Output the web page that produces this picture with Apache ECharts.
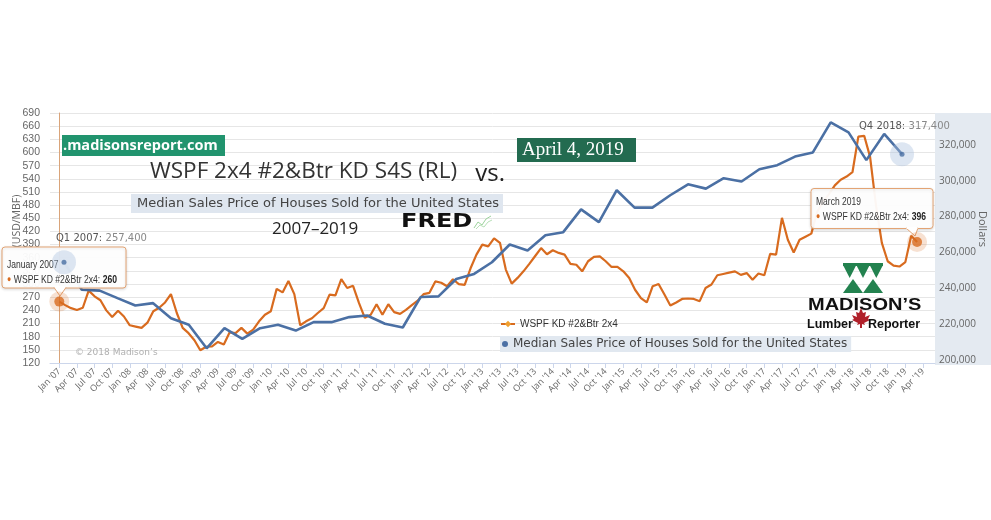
<!DOCTYPE html>
<html>
<head>
<meta charset="utf-8">
<title>WSPF 2x4 vs Median Sales Price</title>
<script src="https://cdn.jsdelivr.net/npm/echarts@6/dist/echarts.min.js"></script>
<style>
  html, body { margin: 0; padding: 0; background: #fff; }
  #chart { width: 991px; height: 520px; }
</style>
</head>
<body>
<div id="chart"></div>
<script>
// WSPF KD #2&Btr 2x4, monthly, Jan 2007 - Mar 2019 (USD/MBF)
const wspf = [
  260, 252, 245, 241, 246, 285, 272, 263, 240, 225, 239, 226, // 2007
  206, 203, 200, 212, 238, 246, 258, 277, 234, 200, 188, 172, // 2008
  149, 157, 158, 168, 162, 190, 188, 200, 187, 196, 215, 230, // 2009
  238, 289, 281, 307, 277, 206, 215, 222, 234, 245, 276, 274, // 2010
  311, 291, 296, 257, 223, 230, 254, 230, 254, 236, 232, 241, // 2011
  252, 262, 277, 280, 306, 303, 295, 311, 300, 298, 336, 367, // 2012
  390, 386, 404, 394, 333, 301, 314, 329, 346, 364, 382, 368, // 2013
  377, 371, 367, 346, 344, 329, 352, 362, 363, 352, 339, 339, // 2014
  329, 314, 287, 268, 258, 295, 300, 276, 251, 258, 266, 267, // 2015
  266, 261, 291, 299, 320, 323, 326, 329, 321, 325, 310, 324, // 2016
  320, 369, 367, 451, 401, 372, 401, 408, 415, 465, 488, 505, // 2017
  525, 538, 545, 555, 636, 638, 590, 480, 394, 352, 342, 340, // 2018
  350, 410, 396                                               // 2019
];

// Median Sales Price of Houses Sold for the United States, quarterly, Q1 2007 - Q4 2018
const mspus = [
  254500, 239200, 238700, 234500,
  230400, 231700, 223300, 219600,
  206500, 217700, 211700, 217700,
  219600, 216400, 221100, 221100,
  223900, 224800, 220200, 218100,
  235100, 235500, 245200, 248000,
  254500, 264400, 261100, 269600,
  271300, 284000, 276900, 294700,
  285000, 285000, 291900, 298000,
  295600, 301400, 299600, 306400,
  308700, 313500, 315800, 332600,
  327000, 311500, 326100, 314800
];

const xTickLabels = [
  "Jan '07", "Apr '07", "Jul '07", "Oct '07",
  "Jan '08", "Apr '08", "Jul '08", "Oct '08",
  "Jan '09", "Apr '09", "Jul '09", "Oct '09",
  "Jan '10", "Apr '10", "Jul '10", "Oct '10",
  "Jan '11", "Apr '11", "Jul '11", "Oct '11",
  "Jan '12", "Apr '12", "Jul '12", "Oct '12",
  "Jan '13", "Apr '13", "Jul '13", "Oct '13",
  "Jan '14", "Apr '14", "Jul '14", "Oct '14",
  "Jan '15", "Apr '15", "Jul '15", "Oct '15",
  "Jan '16", "Apr '16", "Jul '16", "Oct '16",
  "Jan '17", "Apr '17", "Jul '17", "Oct '17",
  "Jan '18", "Apr '18", "Jul '18", "Oct '18",
  "Jan '19", "Apr '19"
];
const xTickMonths = xTickLabels.map((_, i) => i * 3);
const rightTicks = [200000, 220000, 240000, 260000, 280000, 300000, 320000];

const ORANGE = '#d86b1f';
const BLUE = '#4b70a4';
const wspfName = 'WSPF KD #2&Btr 2x4';
const mspusName = 'Median Sales Price of Houses Sold for the United States';

const lastM = wspf.length - 1;
const lastQ = mspus.length - 1;

let chart = echarts.init(document.getElementById('chart'));

// tooltip-like box text, squeezed to look like a narrow font
function tipLines (x, y, title, value) {
    return [
        { type: 'text', z: 9, x: x, y: y, scaleX: 0.85, style: { text: title, fill: '#333', font: '10px "Liberation Sans"', verticalAlign: 'middle' } },
        { type: 'text', z: 9, x: x, y: y + 15, scaleX: 0.78, style: {
            text: '{d|●} {t|' + wspfName + ':} {b|' + value + '}', verticalAlign: 'middle',
            rich: {
                d: { fill: ORANGE, font: '9px "Liberation Sans"' },
                t: { fill: '#333', font: '11px "Liberation Sans"' },
                b: { fill: '#222', font: 'bold 11px "Liberation Sans"' }
            }
        } }
    ];
}

let option = {
    animation: false,
    backgroundColor: '#fff',
    grid: {
        left: 50,
        right: 56,
        top: 113,
        bottom: 157,
        outerBoundsMode: 'none'
    },
    legend: [{
        data: [wspfName],
        left: 500,
        top: 319,
        itemWidth: 14,
        itemHeight: 8,
        itemGap: 4,
        padding: 0,
        textStyle: { fontFamily: 'Liberation Sans', fontSize: 10, color: '#333' }
    }, {
        data: [mspusName],
        left: 500,
        top: 336,
        icon: 'circle',
        itemWidth: 6,
        itemHeight: 6,
        itemGap: 4,
        padding: [2, 4, 2, 2],
        backgroundColor: '#e1e8f0',
        textStyle: { fontFamily: 'DejaVu Sans', fontSize: 12, color: '#444' }
    }],
    xAxis: [{
        type: 'value',
        min: -1.583,
        max: 149.05,
        splitLine: { show: false },
        axisLine: { show: true, lineStyle: { color: '#ccd6eb' } },
        axisTick: { show: true, customValues: xTickMonths, length: 5, lineStyle: { color: '#ccd6eb' } },
        axisLabel: {
            customValues: xTickMonths,
            rotate: 45,
            margin: 7,
            fontFamily: 'Open Sans',
            fontSize: 9,
            color: '#666',
            formatter: (v) => xTickLabels[Math.round(v / 3)]
        }
    }, {
        // own axis of the quarterly house-price overlay
        type: 'value',
        show: false,
        min: -0.785,
        max: 48.85
    }],
    yAxis: [{
        type: 'value',
        min: 120,
        max: 690,
        interval: 30,
        name: '(USD/MBF)',
        nameLocation: 'middle',
        nameGap: 27,
        nameMoveOverlap: false,
        nameTextStyle: { fontFamily: 'Open Sans', fontSize: 10.5, color: '#666', padding: [0, 0, 0, 34] },
        axisLine: { show: true, lineStyle: { color: '#d9a47a', width: 1 } },
        axisTick: { show: false },
        axisLabel: { fontFamily: 'Liberation Sans', fontSize: 10.5, color: '#666', margin: 10 },
        splitLine: { lineStyle: { color: '#e6e6e6' } }
    }, {
        type: 'value',
        position: 'right',
        min: 198300,
        max: 337800,
        name: 'Dollars',
        nameLocation: 'middle',
        nameRotate: -90,
        nameGap: 42,
        nameMoveOverlap: false,
        nameTextStyle: { fontFamily: 'Open Sans', fontSize: 11, color: '#666', padding: [0, 18, 0, 0] },
        axisLine: { show: false },
        axisTick: { show: false },
        splitLine: { show: false },
        axisLabel: {
            customValues: rightTicks,
            margin: 4,
            fontFamily: 'Open Sans',
            fontSize: 10,
            color: '#666',
            formatter: (v) => v.toLocaleString('en-US')
        }
    }],
    series: [{
        name: wspfName,
        type: 'line',
        xAxisIndex: 0,
        yAxisIndex: 0,
        data: wspf.map((v, i) => [i, v]),
        symbol: 'diamond',
        symbolSize: 8,
        showSymbol: false,
        lineStyle: { color: ORANGE, width: 2.2 },
        itemStyle: { color: '#f0a030' },
        z: 3
    }, {
        name: mspusName,
        type: 'line',
        xAxisIndex: 1,
        yAxisIndex: 1,
        data: mspus.map((v, i) => [i, v]),
        showSymbol: false,
        lineStyle: { color: BLUE, width: 2.6 },
        itemStyle: { color: BLUE },
        z: 4
    }, {
        // hover halos on the first and last points
        type: 'scatter',
        xAxisIndex: 0,
        yAxisIndex: 0,
        data: [[0, wspf[0]], [lastM, wspf[lastM]]],
        symbolSize: 20,
        itemStyle: { color: 'rgba(216,107,31,0.25)' },
        silent: true,
        z: 20
    }, {
        type: 'scatter',
        xAxisIndex: 0,
        yAxisIndex: 0,
        data: [[0, wspf[0]], [lastM, wspf[lastM]]],
        symbolSize: 10,
        itemStyle: { color: ORANGE },
        silent: true,
        z: 21
    }, {
        type: 'scatter',
        xAxisIndex: 1,
        yAxisIndex: 1,
        data: [[0, mspus[0]], [lastQ, mspus[lastQ]]],
        symbolSize: 24,
        itemStyle: { color: 'rgba(170,192,222,0.5)' },
        silent: true,
        z: 20
    }, {
        type: 'scatter',
        xAxisIndex: 1,
        yAxisIndex: 1,
        data: [[0, mspus[0]], [lastQ, mspus[lastQ]]],
        symbolSize: 5,
        itemStyle: { color: BLUE },
        silent: true,
        z: 21
    }],
    graphic: [
        // band behind the right axis labels
        { type: 'rect', z: -10, shape: { x: 935, y: 113, width: 56, height: 252 }, style: { fill: '#e4eaf1' } },

        // .madisonsreport.com
        { type: 'rect', z: 5, shape: { x: 62, y: 135, width: 163, height: 21 }, style: { fill: '#21946e' } },
        { type: 'text', z: 6, x: 63, y: 146, style: { text: '.madisonsreport.com', fill: '#fff', font: 'bold 14.5px "Open Sans"', verticalAlign: 'middle' } },

        // title
        { type: 'text', z: 6, x: 150, y: 172, style: { text: 'WSPF 2x4 #2&Btr KD S4S (RL)', fill: '#333', font: '22.5px "Open Sans"', verticalAlign: 'middle' } },
        { type: 'text', z: 6, x: 505, y: 174, style: { text: 'vs.', fill: '#222', font: '24px "Open Sans"', align: 'right', verticalAlign: 'middle' } },
        { type: 'rect', z: 5, shape: { x: 131, y: 194, width: 372, height: 19 }, style: { fill: '#dfe6ef' } },
        { type: 'text', z: 6, x: 137, y: 203.5, style: { text: mspusName, fill: '#444', font: '13px "DejaVu Sans"', verticalAlign: 'middle' } },
        { type: 'text', z: 6, x: 272, y: 229.5, style: { text: '2007–2019', fill: '#222', font: '17px "Open Sans"', verticalAlign: 'middle' } },

        // FRED
        { type: 'text', z: 6, x: 401, y: 222, scaleX: 1.2, style: { text: 'FRED', fill: '#111', font: 'bold 20px "DejaVu Sans"', verticalAlign: 'middle' } },
        { type: 'polyline', z: 6, shape: { points: [[474, 228], [478, 222], [482, 225], [486, 219], [491, 216]] }, style: { stroke: '#9cd39c', lineWidth: 1, fill: null } },
        { type: 'polyline', z: 6, shape: { points: [[476, 229], [480, 225], [484, 227], [488, 222], [492, 220]] }, style: { stroke: '#b8e0b8', lineWidth: 1, fill: null } },

        // April 4, 2019
        { type: 'rect', z: 5, shape: { x: 517, y: 138, width: 119, height: 24 }, style: { fill: '#236b50' } },
        { type: 'text', z: 6, x: 522, y: 150.5, style: { text: 'April 4, 2019', fill: '#fff', font: '19px "Liberation Serif"', verticalAlign: 'middle' } },

        // point labels of the house-price overlay
        { type: 'text', z: 6, x: 56, y: 238.5, style: {
            text: '{a|Q1 2007:} {b|257,400}', verticalAlign: 'middle',
            rich: { a: { fill: '#555', font: '10px "DejaVu Sans"' }, b: { fill: '#888', font: '10px "DejaVu Sans"' } }
        } },
        { type: 'text', z: 6, x: 859, y: 126.5, style: {
            text: '{a|Q4 2018:} {b|317,400}', verticalAlign: 'middle',
            rich: { a: { fill: '#555', font: '10px "DejaVu Sans"' }, b: { fill: '#888', font: '10px "DejaVu Sans"' } }
        } },

        // tooltip, January 2007
        { type: 'rect', z: 8, shape: { x: 2, y: 247, width: 124, height: 41, r: 3 },
          style: { fill: 'rgba(255,255,255,0.95)', stroke: '#e3a474', lineWidth: 1, shadowBlur: 3, shadowColor: 'rgba(0,0,0,0.15)', shadowOffsetY: 1 } },
        { type: 'polygon', z: 8, shape: { points: [[54, 287.5], [60, 296], [66, 287.5]] }, style: { fill: '#fff', stroke: '#e3a474', lineWidth: 1 } },
        { type: 'rect', z: 9, shape: { x: 54.5, y: 286, width: 11, height: 2 }, style: { fill: '#fff' } },
        ...tipLines(7, 265, 'January 2007', wspf[0]),

        // tooltip, March 2019
        { type: 'rect', z: 8, shape: { x: 811, y: 188.5, width: 122, height: 40, r: 3 },
          style: { fill: 'rgba(255,255,255,0.95)', stroke: '#e3a474', lineWidth: 1, shadowBlur: 3, shadowColor: 'rgba(0,0,0,0.15)', shadowOffsetY: 1 } },
        { type: 'polygon', z: 8, shape: { points: [[906, 228], [915, 236], [918, 228]] }, style: { fill: '#fff', stroke: '#e3a474', lineWidth: 1 } },
        { type: 'rect', z: 9, shape: { x: 906.5, y: 227, width: 11, height: 2 }, style: { fill: '#fff' } },
        ...tipLines(816, 202, 'March 2019', wspf[lastM]),

        // copyright
        { type: 'text', z: 6, x: 75, y: 352.5, style: { text: '© 2018 Madison’s', fill: '#b0b0b0', font: '9px "DejaVu Sans"', verticalAlign: 'middle' } },

        // Madison's Lumber Reporter logo
        { type: 'rect', z: 6, shape: { x: 843, y: 263, width: 40, height: 3 }, style: { fill: '#23824f' } },
        { type: 'polygon', z: 6, shape: { points: [[843, 265], [856.3, 265], [849.7, 278]] }, style: { fill: '#23824f' } },
        { type: 'polygon', z: 6, shape: { points: [[856.3, 265], [869.7, 265], [863, 278]] }, style: { fill: '#23824f' } },
        { type: 'polygon', z: 6, shape: { points: [[869.7, 265], [883, 265], [876.3, 278]] }, style: { fill: '#23824f' } },
        { type: 'polygon', z: 6, shape: { points: [[843, 293], [853, 279], [863, 293]] }, style: { fill: '#23824f' } },
        { type: 'polygon', z: 6, shape: { points: [[863, 293], [873, 279], [883, 293]] }, style: { fill: '#23824f' } },
        { type: 'text', z: 6, x: 808, y: 306, scaleX: 1.25, style: { text: 'MADISON’S', fill: '#111', font: 'bold 16px "Liberation Sans"', verticalAlign: 'middle' } },
        { type: 'polygon', z: 6, x: 861, y: 318, shape: { points: [
            [0, -10], [2, -5], [5, -6], [4, -1], [9, -3], [7, 1], [9, 2], [3, 5], [4, 7], [1, 6], [1, 10],
            [-1, 10], [-1, 6], [-4, 7], [-3, 5], [-9, 2], [-7, 1], [-9, -3], [-4, -1], [-5, -6], [-2, -5]
        ] }, style: { fill: '#b0202a' } },
        { type: 'text', z: 7, x: 807, y: 324.5, style: { text: 'Lumber', fill: '#111', font: 'bold 12.5px "Liberation Sans"', verticalAlign: 'middle' } },
        { type: 'text', z: 7, x: 868, y: 324.5, style: { text: 'Reporter', fill: '#111', font: 'bold 12.5px "Liberation Sans"', verticalAlign: 'middle' } }
    ]
};

chart.setOption(option);
</script>
</body>
</html>
